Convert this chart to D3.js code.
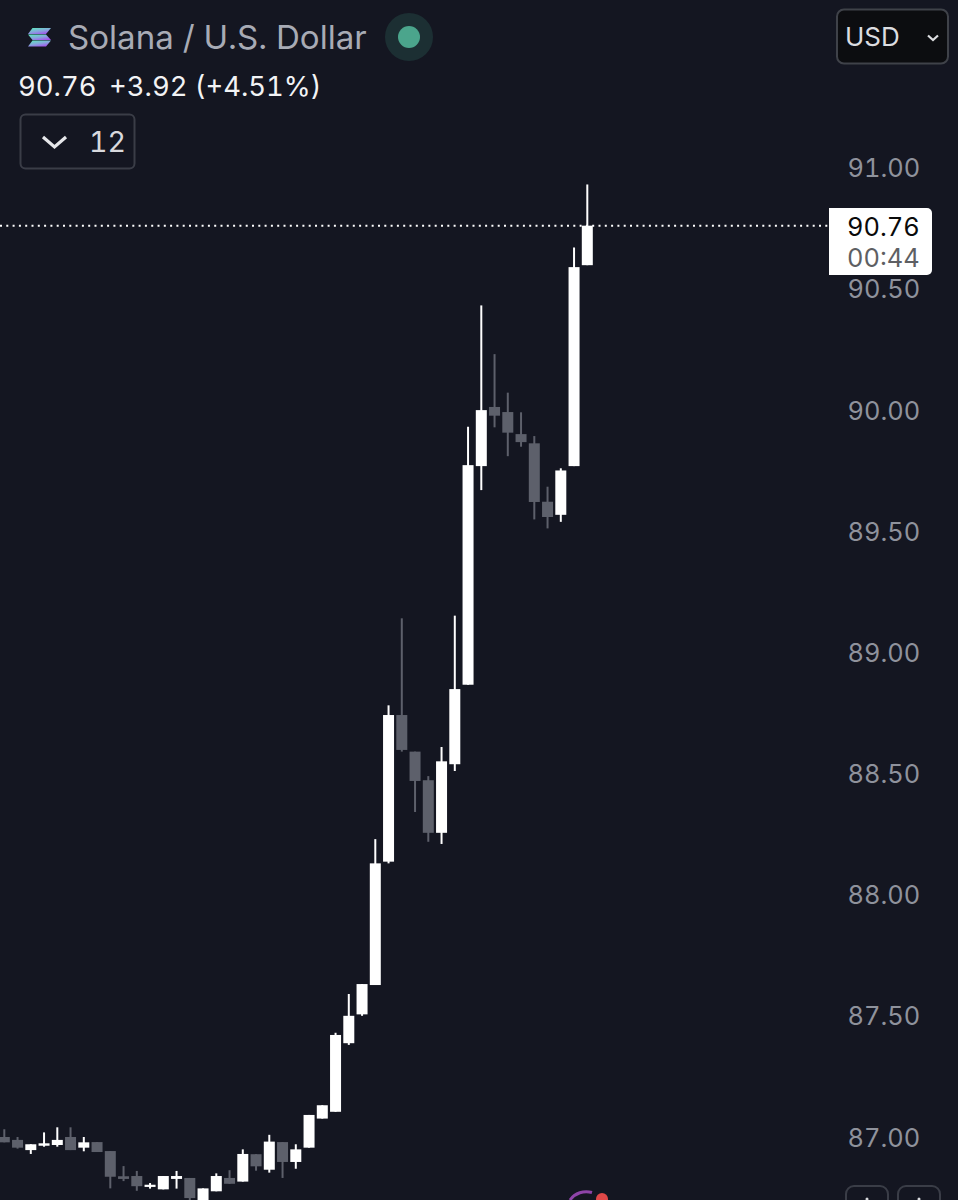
<!DOCTYPE html>
<html><head><meta charset="utf-8">
<script src="https://cdn.jsdelivr.net/npm/d3@7/dist/d3.min.js"></script>
<style>html,body{margin:0;padding:0;background:#141621;overflow:hidden}svg{display:block}text{font-family:Inter,Roboto,sans-serif;font-variant-numeric:tabular-nums}</style>
</head><body><svg id="c" width="958" height="1200"></svg>
<script>
const opens =[87.000,86.988,86.946,86.964,86.967,87.000,86.956,86.979,86.942,86.838,86.839,86.794,86.784,86.827,86.831,86.699,86.776,86.831,86.816,86.929,86.865,86.979,86.897,86.956,87.076,87.104,87.387,87.506,87.627,88.136,88.741,88.590,88.472,88.255,88.538,88.866,89.768,90.012,89.991,89.900,89.862,89.621,89.567,89.768,90.597];
const closes=[86.978,86.956,86.970,86.974,86.988,86.946,86.978,86.938,86.836,86.827,86.797,86.803,86.839,86.839,86.748,86.788,86.839,86.807,86.930,86.879,86.981,86.897,86.949,87.091,87.131,87.421,87.500,87.631,88.129,88.741,88.597,88.469,88.255,88.550,88.848,89.772,89.999,89.976,89.906,89.867,89.620,89.558,89.750,90.589,90.760];
const highs =[87.032,87.000,86.970,87.019,87.040,87.040,87.000,86.979,86.942,86.880,86.860,86.810,86.839,86.860,86.831,86.788,86.850,86.863,86.949,86.929,87.009,86.979,86.970,87.091,87.131,87.430,87.590,87.631,88.229,88.781,89.140,88.590,88.489,88.609,89.151,89.930,90.431,90.230,90.071,89.990,89.892,89.683,89.759,90.670,90.930];
const lows  =[86.978,86.952,86.930,86.960,86.960,86.946,86.941,86.938,86.788,86.818,86.778,86.787,86.784,86.787,86.732,86.699,86.776,86.807,86.816,86.861,86.853,86.831,86.869,86.956,87.076,87.104,87.380,87.500,87.627,88.129,88.590,88.341,88.218,88.209,88.510,88.866,89.669,89.928,89.809,89.848,89.548,89.511,89.538,89.768,90.597];
const priceTicks=[87,87.5,88,88.5,89,89.5,90,90.5,91];
const lastPrice=90.76, countdown="00:44";
const titleText="Solana / U.S. Dollar", quoteText="90.76", changeText="+3.92 (+4.51%)", indicatorCount="12", currency="USD";

const svg=d3.select("#c");
const defs=svg.append("defs");
const grad=defs.append("linearGradient").attr("id","sol").attr("x1",0.2).attr("y1",0).attr("x2",0.8).attr("y2",1);
grad.append("stop").attr("offset","0%").attr("stop-color","#5fe3c0");
grad.append("stop").attr("offset","50%").attr("stop-color","#86a6dc");
grad.append("stop").attr("offset","100%").attr("stop-color","#a64bf0");

const x=d3.scaleLinear().domain([0,44]).range([4.3,587.3]);
const y=d3.scaleLinear().domain([87,91]).range([1137,167.5]);
const W="#ffffff",G="#5d606b";
const candles=d3.range(opens.length).map(i=>({i,o:opens[i],c:closes[i],h:highs[i],l:lows[i]}));

const g=svg.append("g");
g.selectAll("line.w").data(candles).join("line").attr("class","w")
 .attr("x1",d=>x(d.i)).attr("x2",d=>x(d.i)).attr("y1",d=>y(d.h)).attr("y2",d=>y(d.l))
 .attr("stroke",d=>d.c>=d.o?W:G).attr("stroke-width",2);
g.selectAll("rect.b").data(candles).join("rect").attr("class","b")
 .attr("x",d=>x(d.i)-5.5).attr("width",11)
 .attr("y",d=>y(Math.max(d.o,d.c))).attr("height",d=>Math.max(2,Math.abs(y(d.o)-y(d.c))))
 .attr("fill",d=>d.c>=d.o?W:G);

// last price line
svg.append("line").attr("x1",0).attr("x2",830).attr("y1",y(lastPrice)).attr("y2",y(lastPrice))
 .attr("stroke","#fff").attr("stroke-width",2).attr("stroke-dasharray","2 4.3");

// price axis
const axis=d3.axisRight(y).tickValues(priceTicks).tickFormat(d3.format(".2f")).tickSize(0).tickPadding(0);
const ag=svg.append("g").attr("transform","translate(847.5,0)").call(axis);
ag.select(".domain").remove();
ag.selectAll("text").attr("fill","#8f929c").style("font-size","25.4px").style("font-family","Inter,Roboto,sans-serif").attr("dy","0.36em");

// last price tag
svg.append("path").attr("d","M829,208H927a5,5 0 0 1 5,5V270a5,5 0 0 1 -5,5H829Z").attr("fill","#fff");
svg.append("text").attr("x",847).attr("y",236).attr("fill","#0a0a0a").attr("font-size",25.4).text(d3.format(".2f")(lastPrice));
svg.append("text").attr("x",847).attr("y",266.5).attr("fill","#5e5f63").attr("font-size",25.4).text(countdown);

// header
const logo=svg.append("g").attr("fill","url(#sol)");
logo.append("path").attr("d","M32.5,28H51L46,34H28Z");
logo.append("path").attr("d","M28,34.5H46L51,40H32.5Z");
logo.append("path").attr("d","M32.5,40.5H51L46,46.5H28Z");
svg.append("text").attr("x",68).attr("y",49).attr("fill","#a8abb5").attr("font-size",33.1).text(titleText);
svg.append("circle").attr("cx",409).attr("cy",37).attr("r",24).attr("fill","#1c2f33");
svg.append("circle").attr("cx",409).attr("cy",37).attr("r",11).attr("fill","#4ba58c");
svg.append("text").attr("x",18).attr("y",96).attr("fill","#f2f3f5").attr("font-size",27.4).text(quoteText);
svg.append("text").attr("x",109).attr("y",96).attr("fill","#f2f3f5").attr("font-size",27.4).text(changeText);
svg.append("rect").attr("x",20.5).attr("y",114.5).attr("width",114).attr("height",54).attr("rx",5).attr("fill","none").attr("stroke","#3a3d47").attr("stroke-width",2);
svg.append("path").attr("d","M43,137L54.5,147L66,137").attr("fill","none").attr("stroke","#e6e7ea").attr("stroke-width",3.2);
svg.append("text").attr("x",89).attr("y",152).attr("fill","#d8d9dd").attr("font-size",28.5).text(indicatorCount);

// currency
svg.append("rect").attr("x",837).attr("y",9.5).attr("width",111).attr("height",54).attr("rx",7).attr("fill","#0c0d10").attr("stroke","#3f4249").attr("stroke-width",2);
svg.append("text").attr("x",845).attr("y",46).attr("fill","#dcdde0").attr("font-size",26).text(currency);
svg.append("path").attr("d","M928,35.5L933,40L938,35.5").attr("fill","none").attr("stroke","#dcdde0").attr("stroke-width",2.2);

// cropped elements at the bottom edge
svg.append("path").attr("d","M570,1200A20,20 0 0 1 592,1192.5").attr("fill","none").attr("stroke","#8e44a8").attr("stroke-width",3);
svg.append("circle").attr("cx",602).attr("cy",1199).attr("r",6).attr("fill","#e04848");
[[846,888],[898,940]].forEach(([a,b])=>{
 svg.append("rect").attr("x",a).attr("y",1186).attr("width",b-a).attr("height",40).attr("rx",8).attr("fill","none").attr("stroke","#3a3d47").attr("stroke-width",2);
 svg.append("circle").attr("cx",(a+b)/2).attr("cy",1199).attr("r",1.5).attr("fill","#d8d9dd");
});
</script></body></html>
